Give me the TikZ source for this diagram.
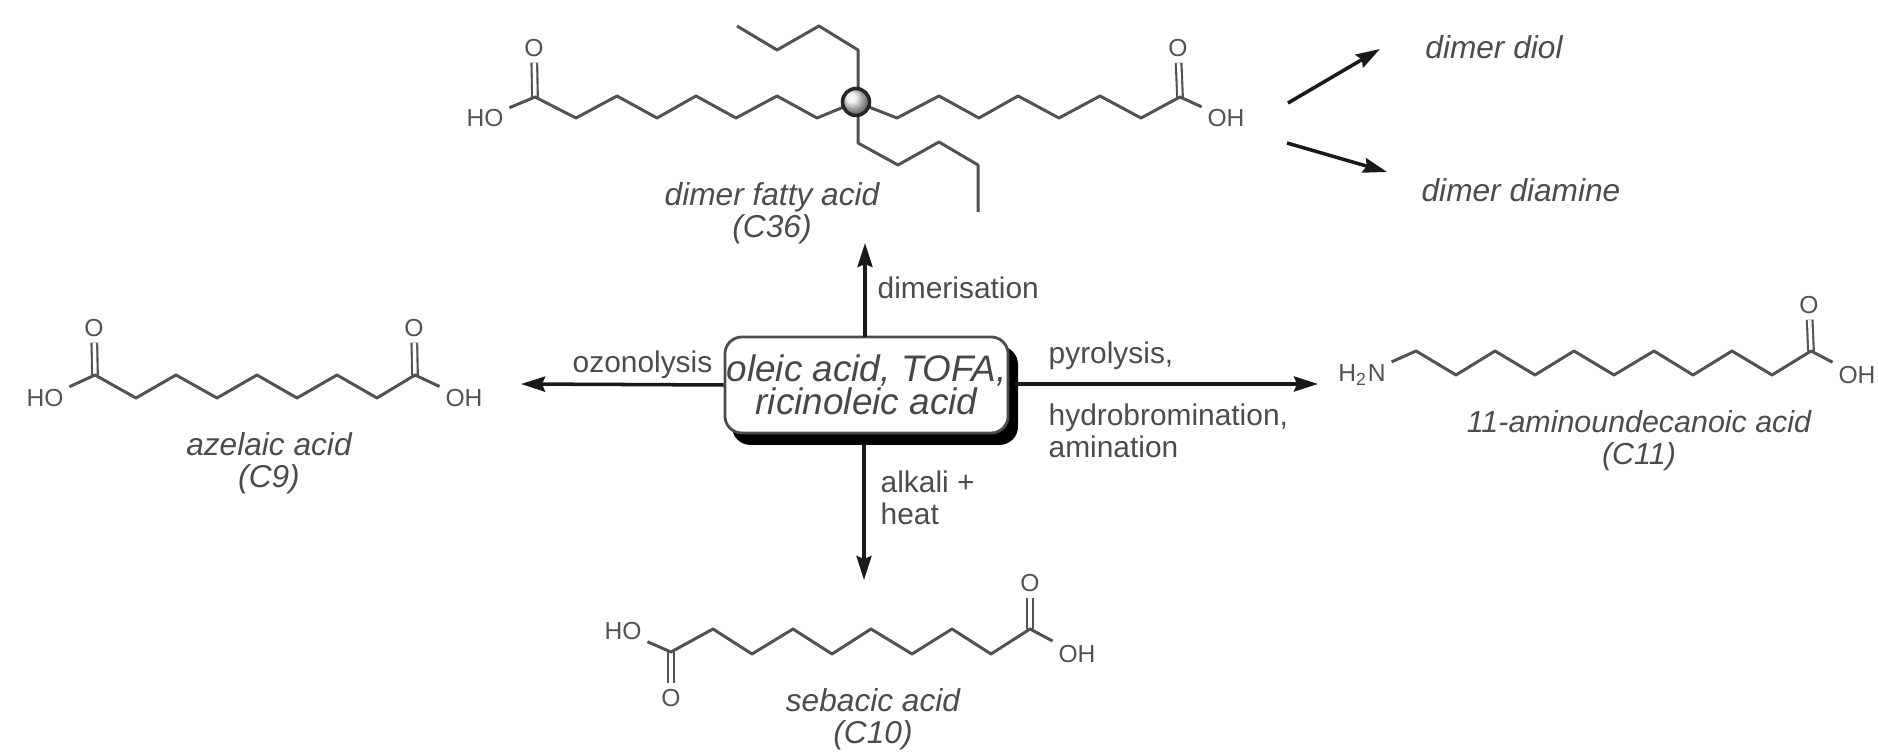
\documentclass[tikz,border=0pt]{standalone}
\usepackage{fontspec}
\setmainfont{Liberation Sans}
\usetikzlibrary{arrows.meta,shadows}
\tikzset{
	bond/.style={line width=0.85pt,color=black!68,line join=round},
	dbond/.style={line width=0.6pt,color=black!68,double,double distance=1pt},
	rxn/.style={line width=1pt,color=black!90,-{Stealth[length=0.24cm,width=0.15cm,inset=0.03cm]}},
	atomlabel/.style={inner sep=1.5pt,text=black!68,font=\fontsize{7}{8}\selectfont},
	reagent/.style={inner sep=0pt,text=black!70,align=left,font=\fontsize{8.5}{9}\selectfont},
	product/.style={inner sep=0pt,text=black!70,align=center,font=\fontsize{9}{9.2}\selectfont\itshape},
	startbox/.style={draw=black!70,line width=0.8pt,fill=white,rounded corners=0.17cm,inner sep=0pt,
		minimum width=2.83cm,minimum height=0.96cm,text=black!72,align=center,
		font=\fontsize{10.5}{9.4}\selectfont\itshape,
		copy shadow={fill=black,draw=black,shadow xshift=0.085cm,shadow yshift=-0.105cm,opacity=1}}
}
\begin{document}
\begin{tikzpicture}[x=0.01cm,y=-0.01cm]
\useasboundingbox (0,0) rectangle (1878,755);

\node [startbox] (start) at (866.5,385) {oleic acid, TOFA,\\ ricinoleic acid};

% dimer
\coordinate (dimerCa) at (535,97);
\coordinate (dimerCb) at (1180,97);
\coordinate (dimerCore) at (856,102);
\node [atomlabel] (dimerHO) at (485,118) {HO};
\node [atomlabel] (dimerOa) at (534,48) {O};
\node [atomlabel] (dimerOb) at (1178,48) {O};
\node [atomlabel] (dimerOH) at (1226,118) {OH};
\draw [dbond] (dimerCa) -- (dimerOa);
\draw [dbond] (dimerCb) -- (dimerOb);
\draw [bond] (dimerHO) -- (dimerCa) -- (576,118) -- (617,96) -- (657,118) -- (696,96) -- (736,118) -- (777,96) -- (817,118) -- (dimerCore);
\draw [bond] (dimerCore) -- (897,118) -- (939,96) -- (979,118) -- (1018,96) -- (1059,118) -- (1100,96) -- (1141,118) -- (dimerCb) -- (dimerOH);
\draw [bond] (858,102) -- (858,50) -- (819,26) -- (777,50) -- (737,26);
\draw [bond] (858,102) -- (858,143) -- (898,165) -- (939,142) -- (978,165) -- (978,212);
\shade [ball color=gray!18,draw=black!85,line width=1pt] (dimerCore) circle (13.5);
\node [product] (dimerName) at (772,213) {dimer fatty acid\\ (C36)};
\node [product] (diol) at (1494,47) {dimer diol};
\node [product] (diamine) at (1521,190) {dimer diamine};
\coordinate (diolStart) at (1288,103);
\coordinate (diolTip) at (1380,49);
\coordinate (diamineStart) at (1287,143);
\coordinate (diamineTip) at (1387,172);
\draw [rxn] (diolStart) -- (diolTip);
\draw [rxn] (diamineStart) -- (diamineTip);

% azelaic
\coordinate (azCa) at (95,375);
\coordinate (azCb) at (415,375);
\node [atomlabel] (azHO) at (45,398) {HO};
\node [atomlabel] (azOa) at (94,328) {O};
\node [atomlabel] (azOb) at (414,328) {O};
\node [atomlabel] (azOH) at (464,398) {OH};
\draw [dbond] (azCa) -- (azOa);
\draw [dbond] (azCb) -- (azOb);
\draw [bond] (azHO) -- (azCa) -- (136,398) -- (176,375) -- (217,398) -- (257,375) -- (297,398) -- (337,375) -- (377,398) -- (azCb) -- (azOH);
\node [product] (azName) at (269,463) {azelaic acid\\ (C9)};

% sebacic
\coordinate (sebCa) at (671,652);
\coordinate (sebCb) at (1030,629);
\node [atomlabel] (sebHO) at (623,631) {HO};
\node [atomlabel] (sebOa) at (671,698) {O};
\node [atomlabel] (sebOb) at (1030,583) {O};
\node [atomlabel] (sebOH) at (1077,654) {OH};
\draw [dbond] (sebCa) -- (sebOa);
\draw [dbond] (sebCb) -- (sebOb);
\draw [bond] (sebHO) -- (sebCa) -- (713,629) -- (752,654) -- (793,629) -- (832,654) -- (871,629) -- (912,654) -- (952,629) -- (991,654) -- (sebCb) -- (sebOH);
\node [product] (sebName) at (873,719.5) {sebacic acid\\ (C10)};

% aminoundecanoic
\coordinate (amCb) at (1811,351);
\node [atomlabel] (amN) at (1362,375) {H\textsubscript{2}N};
\node [atomlabel] (amO) at (1809,305) {O};
\node [atomlabel] (amOH) at (1857,375) {OH};
\draw [dbond] (amCb) -- (amO);
\draw [bond] (amN) -- (1416,351) -- (1456,375) -- (1495,351) -- (1535,375) -- (1574,351) -- (1614,375) -- (1654,351) -- (1693,375) -- (1732,351) -- (1772,375) -- (amCb) -- (amOH);
\node [product,font=\fontsize{8.65}{9.2}\selectfont\itshape] (amName) at (1639,440.5) {11-aminoundecanoic acid\\ (C11)};

% reactions
\coordinate (upTip) at (865,243);
\coordinate (downTip) at (864,580);
\coordinate (leftTip) at (521,384);
\coordinate (rightTip) at (1318,384);
\draw [rxn] (865,337) -- (upTip);
\draw [rxn] (864,444) -- (downTip);
\draw [rxn] (start.west) -- (leftTip);
\draw [rxn] (1015,384) -- (rightTip);
\node [reagent,anchor=west] (dimerisation) at (877,288) {dimerisation};
\node [reagent,anchor=west] (ozonolysis) at (572,365) {ozonolysis};
\node [reagent,anchor=west] (pyrolysis) at (1048,356) {pyrolysis,};
\node [reagent,anchor=west] (hydro) at (1048,431) {hydrobromination,\\ amination};
\node [reagent,anchor=west] (alkali) at (880,498) {alkali +\\ heat};
\end{tikzpicture}
\end{document}
